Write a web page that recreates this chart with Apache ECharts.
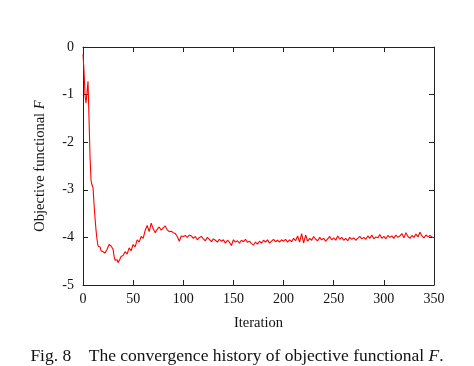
<!DOCTYPE html>
<html>
<head>
<meta charset="utf-8">
<script src="https://cdn.jsdelivr.net/npm/echarts@6/dist/echarts.min.js"></script>
<style>html,body{margin:0;padding:0;background:#fff;}#c{width:474px;height:366px;}</style>
</head>
<body>
<div id="c"></div>
<script>
const xTicks = [0, 50, 100, 150, 200, 250, 300, 350];
const yTicks = [-5, -4, -3, -2, -1, 0];
const iterations = [
  0,1,2,3,4,5,6,7,8,9,10,11,12,13,14,15,16,17,18,19,20,21,22,23,24,25,26,27,28,29,30,31,32,33,34,35,36,37,38,39,
  40,42,44,46,48,50,52,54,56,58,60,62,64,66,68,70,72,74,76,78,80,82,84,86,88,90,92,94,96,98,
  100,102,104,106,108,110,112,114,116,118,120,122,124,126,128,130,132,134,136,138,140,142,144,146,148,
  150,152,154,156,158,160,162,164,166,168,170,172,174,176,178,180,182,184,186,188,190,192,194,196,198,
  200,202,204,206,208,210,212,214,216,218,220,222,224,226,228,230,232,234,236,238,240,242,244,246,248,
  250,252,254,256,258,260,262,264,266,268,270,272,274,276,278,280,282,284,286,288,290,292,294,296,298,
  300,302,304,306,308,310,312,314,316,318,320,322,324,326,328,330,332,334,336,338,340,342,344,346,348,350
];
const objective = [
  -0.15,-0.5,-1.0,-1.18,-0.95,-0.72,-1.5,-2.3,-2.8,-2.9,-2.95,-3.3,-3.6,-3.85,-4.05,-4.18,-4.22,-4.2,-4.28,-4.25,
  -4.3,-4.27,-4.33,-4.3,-4.25,-4.2,-4.15,-4.12,-4.18,-4.14,-4.25,-4.4,-4.48,-4.52,-4.47,-4.53,-4.5,-4.45,-4.4,-4.43,
  -4.38,-4.3,-4.35,-4.22,-4.28,-4.15,-4.2,-4.05,-4.1,-3.98,-4.02,-3.85,-3.75,-3.88,-3.7,-3.82,-3.9,-3.83,-3.78,-3.85,
  -3.8,-3.76,-3.84,-3.88,-3.87,-3.9,-3.92,-3.98,-4.08,-3.97,
  -3.98,-3.96,-4.0,-3.95,-3.97,-4.02,-3.98,-4.05,-4.0,-3.98,-4.03,-4.07,-4.0,-4.04,-4.09,-4.03,-4.06,-4.1,-4.04,-4.08,
  -4.05,-4.12,-4.06,-4.1,-4.17,
  -4.05,-4.1,-4.07,-4.12,-4.06,-4.09,-4.04,-4.1,-4.08,-4.13,-4.16,-4.1,-4.14,-4.08,-4.12,-4.06,-4.1,-4.05,-4.12,-4.08,
  -4.04,-4.09,-4.06,-4.1,-4.05,
  -4.08,-4.04,-4.1,-4.05,-4.09,-4.02,-4.07,-3.97,-4.1,-3.92,-4.12,-3.95,-4.08,-4.02,-4.06,-3.98,-4.04,-4.07,-4.0,-4.05,
  -4.02,-4.08,-4.03,-3.98,-4.05,
  -4.01,-4.06,-3.97,-4.04,-4.0,-4.06,-4.02,-4.07,-4.0,-4.04,-4.01,-4.06,-4.02,-3.98,-4.03,-4.0,-4.04,-3.97,-4.02,-3.95,
  -4.03,-3.99,-4.01,-3.94,-4.02,
  -3.98,-4.03,-3.96,-4.0,-3.97,-4.02,-3.95,-4.0,-3.97,-3.92,-4.01,-3.9,-3.98,-4.02,-3.96,-4.0,-3.93,-3.99,-3.89,-3.97,
  -4.01,-3.95,-3.99,-3.96,-3.99,-4.01
];

const font = '"Liberation Serif", "DejaVu Serif", serif';
const chart = echarts.init(document.getElementById('c'), null, {renderer: 'canvas'});
const data = iterations.map((x, i) => [x, objective[i]]);
const axisLine = {show: true, onZero: false, lineStyle: {color: '#222', width: 1}};
const tick = {show: true, inside: true, length: 5, lineStyle: {color: '#222', width: 1}};
chart.setOption({
  animation: false,
  backgroundColor: '#fff',
  grid: {left: 83, right: 40, top: 47, bottom: 81},
  title: {
    text: 'Fig. 8    The convergence history of objective functional {i|F}.',
    left: 'center', top: 342,
    textStyle: {fontFamily: font, fontSize: 17.5, fontWeight: 'normal', color: '#111',
      rich: {i: {fontFamily: font, fontSize: 17.5, fontStyle: 'italic', color: '#111'}}}
  },
  xAxis: [{
    type: 'value', position: 'bottom', min: 0, max: 350, interval: 50,
    axisLine: axisLine, axisTick: tick, splitLine: {show: false},
    axisLabel: {fontFamily: font, fontSize: 14, color: '#111', margin: 7},
    name: 'Iteration', nameLocation: 'middle', nameGap: 31,
    nameTextStyle: {fontFamily: font, fontSize: 14.5, color: '#111'}
  }, {
    type: 'value', position: 'top', min: 0, max: 350, interval: 50,
    axisLine: axisLine, axisTick: tick, axisLabel: {show: false}, splitLine: {show: false}
  }],
  yAxis: [{
    type: 'value', position: 'left', min: -5, max: 0, interval: 1,
    axisLine: axisLine, axisTick: tick, splitLine: {show: false},
    axisLabel: {fontFamily: font, fontSize: 14, color: '#111', margin: 9},
    name: 'Objective functional {i|F}', nameLocation: 'middle', nameGap: 35, nameRotate: 90,
    nameTextStyle: {fontFamily: font, fontSize: 14.5, color: '#111',
      rich: {i: {fontFamily: font, fontSize: 14.5, fontStyle: 'italic', color: '#111'}}}
  }, {
    type: 'value', position: 'right', min: -5, max: 0, interval: 1,
    axisLine: axisLine, axisTick: tick, axisLabel: {show: false}, splitLine: {show: false}
  }],
  series: [{
    type: 'line', data: data, xAxisIndex: 0, yAxisIndex: 0,
    showSymbol: false, symbol: 'none',
    lineStyle: {color: '#ff0000', width: 1.1}
  }]
});
</script>
</body>
</html>
